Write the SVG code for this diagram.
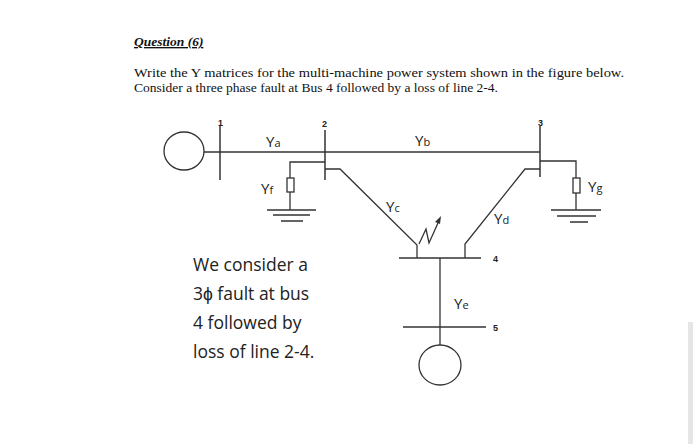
<svg xmlns="http://www.w3.org/2000/svg" width="700" height="444" viewBox="0 0 700 444">
<style>
.w{stroke:#333;stroke-width:1.3;fill:none}
.b{stroke:#333;stroke-width:1.5;fill:none}
.t{font-family:"Open Sans",sans-serif;font-size:15px;fill:#222}
.s{font-size:11px}
.n{font-family:"Liberation Sans",sans-serif;font-size:9px;font-weight:bold;fill:#222}
.p{font-family:"Liberation Serif",serif;font-size:13.5px;fill:#111}
.c{font-family:"Open Sans",sans-serif;font-size:17.5px;fill:#222}
</style>
<rect width="700" height="444" fill="#fff"/>
<rect x="688" y="322" width="5" height="122" fill="#e6e6e6"/>
<text x="134" y="46" class="p" font-weight="bold" font-style="italic" text-decoration="underline" font-size="15">Question (6)</text>
<text x="134" y="77" class="p" textLength="490" lengthAdjust="spacingAndGlyphs">Write the Y matrices for the multi-machine power system shown in the figure below.</text>
<text x="134" y="92" class="p" textLength="364" lengthAdjust="spacingAndGlyphs">Consider a three phase fault at Bus 4 followed by a loss of line 2-4.</text>
<g id="connectors">
<path class="w" d="M204 152H540"/>
<path class="w" d="M325 162H290V178M290 192V210"/>
<path class="w" d="M325 169H340L417 245V258"/>
<path class="w" d="M540 169H525L465 244V258"/>
<path class="w" d="M540 161H576V178M576 193V210"/>
<path class="w" d="M440 258V345"/>
<path class="w" d="M419 244L426 229L429 243L438 223"/>
<path d="M441 216L435 222L440 224Z" fill="#333"/>
</g>
<g id="gen1"><ellipse class="w" cx="184" cy="151" rx="20" ry="19"/></g>
<g id="bus1"><path class="b" d="M220 126V180"/><text x="218" y="126" class="n">1</text></g>
<g id="bus2"><path class="b" d="M325 130V180"/><text x="322" y="127" class="n">2</text></g>
<g id="bus3"><path class="b" d="M540 126V177"/><text x="538" y="126" class="n">3</text></g>
<g id="bus4"><path class="b" d="M399 258H481"/><text x="493" y="262" class="n">4</text></g>
<g id="bus5"><path class="b" d="M403 327H486"/><text x="493" y="331" class="n">5</text></g>
<g id="gen5"><ellipse class="w" cx="440" cy="365" rx="21" ry="20"/></g>
<g id="yf"><rect class="w" x="287" y="178" width="7" height="14"/><path class="w" d="M267 210H316M273 215H310M281 221H303"/><text x="261" y="194" class="t">Y<tspan class="s">f</tspan></text></g>
<g id="yg"><rect class="w" x="573" y="178" width="7" height="15"/><path class="w" d="M551 210H601M557 216H596M570 222H588"/><text x="588" y="192" class="t">Y<tspan class="s">g</tspan></text></g>
<text x="266" y="147" class="t">Y<tspan class="s">a</tspan></text>
<text x="415" y="146" class="t">Y<tspan class="s">b</tspan></text>
<text x="386" y="212" class="t">Y<tspan class="s">c</tspan></text>
<text x="494" y="224" class="t">Y<tspan class="s">d</tspan></text>
<text x="454" y="309" class="t">Y<tspan class="s">e</tspan></text>
<text x="193" y="271" class="c">We consider a</text>
<text x="193" y="300" class="c">3ϕ fault at bus</text>
<text x="193" y="329" class="c">4 followed by</text>
<text x="193" y="358" class="c">loss of line 2-4.</text>
</svg>
